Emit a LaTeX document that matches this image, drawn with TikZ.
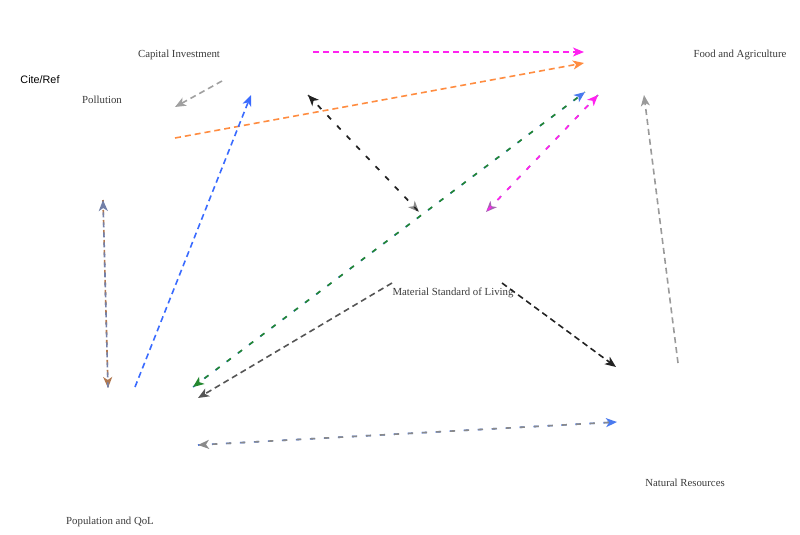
\documentclass[tikz,border=0pt]{standalone}
\usepackage{fontspec}
\setmainfont{Liberation Serif}
\newfontfamily\sanslib{Liberation Sans}
\usetikzlibrary{arrows.meta}
\definecolor{txt}{HTML}{3A3A3A}
\definecolor{cmag}{HTML}{FF22F0}
\definecolor{corange}{HTML}{FF8C40}
\definecolor{clgray}{HTML}{A0A0A0}
\definecolor{cblue}{HTML}{3A6BFF}
\definecolor{cblack}{HTML}{222222}
\definecolor{cmgray}{HTML}{8A8A8A}
\definecolor{cgreen}{HTML}{23882F}
\definecolor{cblue2}{HTML}{4A7AEE}
\definecolor{cpurple}{HTML}{A862B4}
\definecolor{cgray}{HTML}{9A9A9A}
\definecolor{cdgray}{HTML}{555555}
\definecolor{cslate}{HTML}{7380A8}
\definecolor{cbrown}{HTML}{B07850}
\tikzset{
  lbl/.style={text=txt, font=\fontsize{10.8}{13}\selectfont, inner sep=0pt},
  tipshape/.style={},
  link/.style={line width=1.6pt, dash pattern=on 6pt off 4pt, -{Stealth[length=11pt,width=9pt,inset=3pt]}},
  halfa/.style={line width=1.6pt, dash pattern=on 5pt off 9pt, -{Stealth[length=11pt,width=9pt,inset=3pt]}},
  halfb/.style={line width=1.6pt, dash pattern=on 5pt off 9pt, dash phase=7pt, {Stealth[length=11pt,width=9pt,inset=3pt]}-},
  solida/.style={line width=1.6pt, dash pattern=on 5pt off 5pt, -{Stealth[length=11pt,width=9pt,inset=3pt]}},
  solidb/.style={line width=1.6pt, dash pattern=on 5pt off 5pt, dash phase=5pt, {Stealth[length=11pt,width=9pt,inset=3pt]}-},
}
\begin{document}
\begin{tikzpicture}[x=1pt,y=-1pt]
\useasboundingbox (0,0) rectangle (800,535);
% labels
\node[lbl] (cap) at (179,54.5) {Capital Investment};
\node[inner sep=0pt, font=\sanslib\fontsize{10.8}{13}\selectfont] (cite) at (40,80) {Cite/Ref};
\node[lbl] (pol) at (102,99.5) {Pollution};
\node[lbl] (food) at (740,54.5) {Food and Agriculture};
\node[lbl] (msl) at (453,292.5) {Material Standard of Living};
\node[lbl] (nat) at (685,482.5) {Natural Resources};
\node[lbl] (pop) at (110,521.5) {Population and QoL};
% endpoints
\coordinate (m1) at (313,52);  \coordinate (m2) at (584,52);
\coordinate (o1) at (175,138); \coordinate (o2) at (584,63);
\coordinate (g1) at (222,81);  \coordinate (g2) at (175,107);
\coordinate (b1) at (135,387); \coordinate (b2) at (251,95);
\coordinate (k1) at (308,95);  \coordinate (k2) at (419,212);
\coordinate (gb1) at (193,387); \coordinate (gb2) at (585,92);
\coordinate (mp1) at (598,95); \coordinate (mp2) at (486,212);
\coordinate (r1) at (678,363); \coordinate (r2) at (644,95);
\coordinate (d1) at (392,283); \coordinate (d2) at (198,398);
\coordinate (e1) at (502,283); \coordinate (e2) at (616,367);
\coordinate (h1) at (617,422); \coordinate (h2) at (198,445);
\coordinate (v1) at (103,200); \coordinate (v2) at (108,388);
% single-colour links
\draw[link, cmag] (m1) -- (m2);
\draw[link, corange] (o1) -- (o2);
\draw[link, clgray] (g1) -- (g2);
\draw[link, cblue] (b1) -- (b2);
\draw[link, cgray] (r1) -- (r2);
\draw[link, cdgray] (d1) -- (d2);
\draw[link, cblack] (e1) -- (e2);
% two-colour links
\draw[halfa, cmgray] (k1) -- (k2);
\draw[halfb, cblack] (k1) -- (k2);
\draw[halfa, cblue2] (gb1) -- (gb2);
\draw[halfb, cgreen] (gb1) -- (gb2);
\draw[halfa, cpurple] (mp1) -- (mp2);
\draw[halfb, cmag] (mp1) -- (mp2);
\draw[halfa, cblue2] (h2) -- (h1);
\draw[halfb, cmgray] (h2) -- (h1);
\draw[solida, cbrown] (v1) -- (v2);
\draw[solidb, cslate] (v1) -- (v2);
\end{tikzpicture}
\end{document}
